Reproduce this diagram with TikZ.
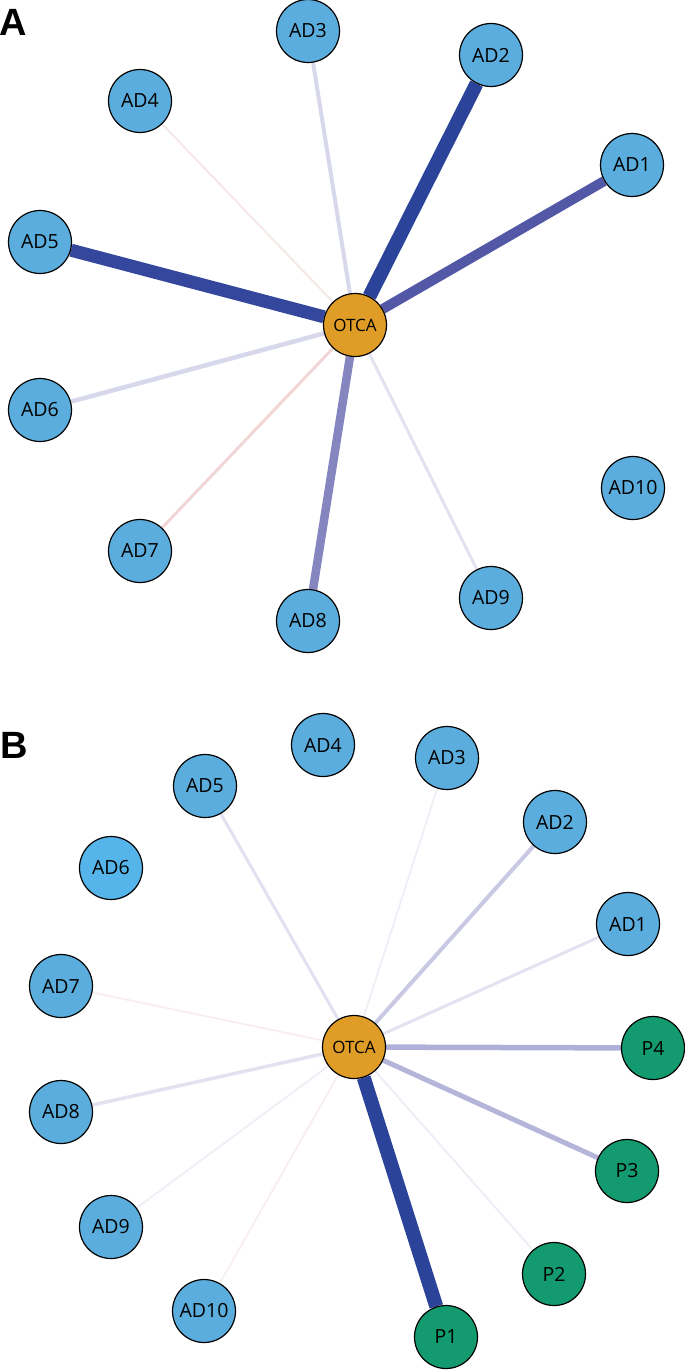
\documentclass[tikz,border=0pt]{standalone}
\usepackage{fontspec}
\setmainfont{Open Sans}
\newfontfamily\panelfont{Liberation Sans}
\usetikzlibrary{backgrounds}
\definecolor{nodeblue}{HTML}{5AADDC}
\definecolor{nodeblueb}{HTML}{55B4E9}
\definecolor{nodeorange}{HTML}{DF9D28}
\definecolor{nodegreen}{HTML}{139A6F}
\definecolor{eA}{HTML}{2B4499}
\definecolor{eB}{HTML}{34479D}
\definecolor{eC}{HTML}{5258A6}
\definecolor{eD}{HTML}{8585C0}
\definecolor{eE}{HTML}{AFAFD7}
\definecolor{eF}{HTML}{C9C9E4}
\definecolor{eG}{HTML}{D8D8EC}
\definecolor{eH}{HTML}{E2E2F1}
\definecolor{eI}{HTML}{EEEEF7}
\definecolor{pA}{HTML}{F2D6D6}
\definecolor{pB}{HTML}{F7E8E8}
\definecolor{pC}{HTML}{F9EEEE}
\tikzset{
  vnode/.style={circle, draw=black, line width=1.2pt, minimum size=63pt, inner sep=0pt, font=\fontsize{19.5}{21}\selectfont},
  adnode/.style={vnode, fill=nodeblue},
  hub/.style={vnode, fill=nodeorange, font=\fontsize{17}{19}\selectfont},
  pnode/.style={vnode, fill=nodegreen},
  panellabel/.style={anchor=base west, inner sep=0pt, font=\panelfont\bfseries\fontsize{38}{40}\selectfont},
  edge/.style={line cap=butt}
}
\begin{document}
\begin{tikzpicture}[x=1pt,y=-1pt]
\useasboundingbox (0,0) rectangle (685,1370);
% Panel A
\node[panellabel] (labA) at (-1,36) {A};
\node[hub] (oa) at (355,325) {OTCA};
\node[adnode] (a1) at (632,165) {AD1};
\node[adnode] (a2) at (491,55) {AD2};
\node[adnode] (a3) at (308,31) {AD3};
\node[adnode] (a4) at (140,101) {AD4};
\node[adnode] (a5) at (40,242) {AD5};
\node[adnode] (a6) at (40,410) {AD6};
\node[adnode] (a7) at (140,551) {AD7};
\node[adnode] (a8) at (308,621) {AD8};
\node[adnode] (a9) at (491,598) {AD9};
\node[adnode] (a10) at (633,488) {AD10};
% Panel B
\node[panellabel] (labB) at (0,758) {B};
\node[hub] (ob) at (354,1047) {OTCA};
\node[adnode] (b1) at (628,924) {AD1};
\node[adnode] (b2) at (555,822) {AD2};
\node[adnode] (b3) at (447,758) {AD3};
\node[adnode] (b4) at (323,745) {AD4};
\node[adnode] (b5) at (205,786) {AD5};
\node[adnode, fill=nodeblueb] (b6) at (111,868) {AD6};
\node[adnode] (b7) at (61,986) {AD7};
\node[adnode] (b8) at (61,1112) {AD8};
\node[adnode] (b9) at (111,1227) {AD9};
\node[adnode] (b10) at (204,1311) {AD10};
\node[pnode] (p1) at (446,1337) {P1};
\node[pnode] (p2) at (554,1274) {P2};
\node[pnode] (p3) at (627,1171) {P3};
\node[pnode] (p4) at (653,1048) {P4};
\begin{scope}[on background layer]
% Panel A edges
\draw[edge, eA, line width=14pt] (oa) -- (a2);
\draw[edge, eB, line width=13pt] (oa) -- (a5);
\draw[edge, eC, line width=10pt] (oa) -- (a1);
\draw[edge, eD, line width=8.5pt] (oa) -- (a8);
\draw[edge, eG, line width=4pt] (oa) -- (a3);
\draw[edge, eG, line width=4.5pt] (oa) -- (a6);
\draw[edge, eH, line width=3pt] (oa) -- (a9);
\draw[edge, pA, line width=3pt] (oa) -- (a7);
\draw[edge, pB, line width=2pt] (oa) -- (a4);
% Panel B edges
\draw[edge, eA, line width=14pt] (ob) -- (p1);
\draw[edge, eE, line width=5.5pt] (ob) -- (p4);
\draw[edge, eE!92!white, line width=5pt] (ob) -- (p3);
\draw[edge, eF, line width=4pt] (ob) -- (b2);
\draw[edge, eH!95!eG, line width=3pt] (ob) -- (b5);
\draw[edge, eH, line width=3pt] (ob) -- (b1);
\draw[edge, eH, line width=3.5pt] (ob) -- (b8);
\draw[edge, eI, line width=1.8pt] (ob) -- (b3);
\draw[edge, eI, line width=1.8pt] (ob) -- (b9);
\draw[edge, eI, line width=2pt] (ob) -- (p2);
\draw[edge, pC, line width=1.8pt] (ob) -- (b10);
\draw[edge, pC, line width=1.8pt] (ob) -- (b7);
\end{scope}
\end{tikzpicture}
\end{document}
